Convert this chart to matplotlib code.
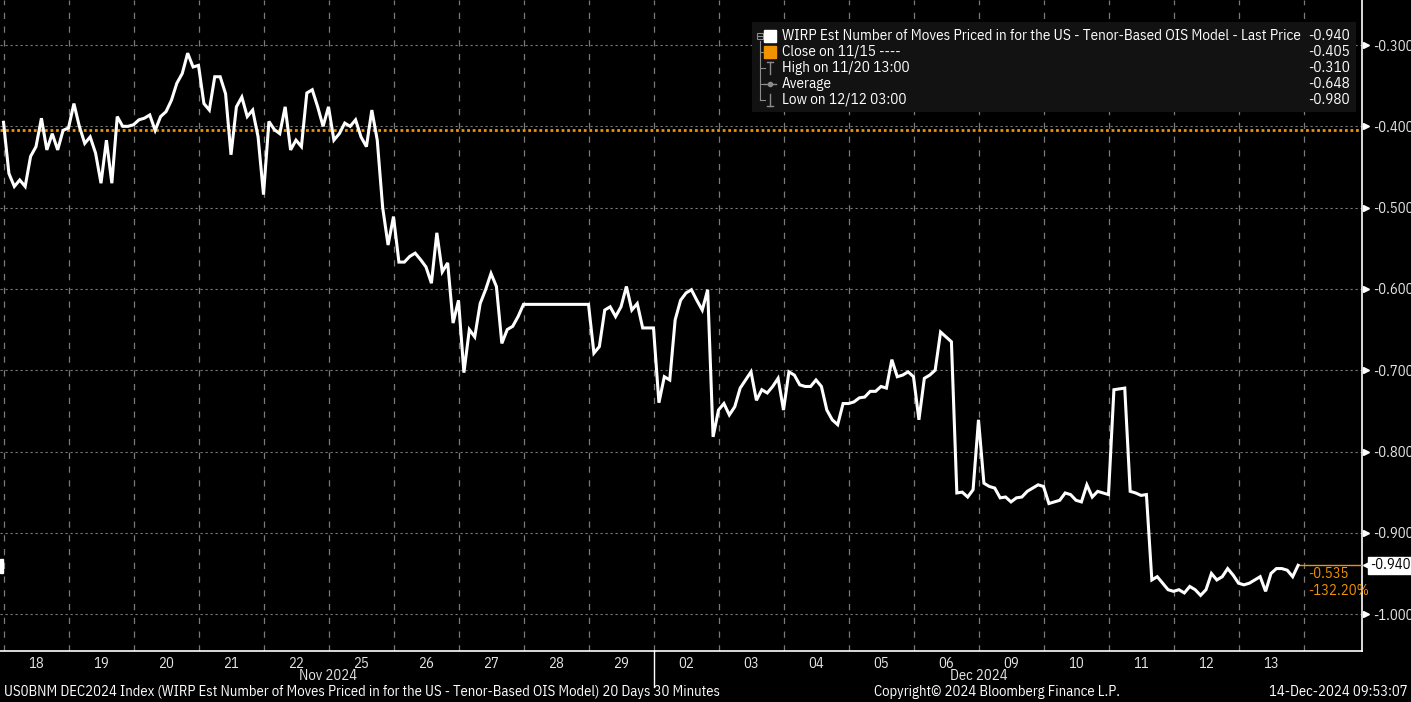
import numpy as np
import matplotlib
matplotlib.use("Agg")
import matplotlib.pyplot as plt

plt.rcParams['font.family'] = ['IBM Plex Sans Condensed', 'DejaVu Sans']

# trading days shown on the axis (weekends collapsed)
day_labels = ['18', '19', '20', '21', '22', '25', '26', '27', '28', '29',
              '02', '03', '04', '05', '06', '09', '10', '11', '12', '13']
month_labels = ['Nov 2024', 'Dec 2024']
month_start = [0, 10]
pts_per_day = 12  # one reading every 2 hours

# WIRP readings
nov18 = [-0.395, -0.458, -0.474, -0.466, -0.474, -0.437, -0.425, -0.390, -0.429, -0.409, -0.429, -0.405]
nov19 = [-0.402, -0.372, -0.400, -0.421, -0.413, -0.433, -0.470, -0.417, -0.470, -0.388, -0.400, -0.400]
nov20 = [-0.398, -0.392, -0.390, -0.386, -0.405, -0.388, -0.382, -0.368, -0.347, -0.335, -0.310, -0.327]
nov21 = [-0.325, -0.372, -0.380, -0.339, -0.339, -0.360, -0.435, -0.376, -0.364, -0.388, -0.380, -0.413]
nov22 = [-0.484, -0.394, -0.404, -0.409, -0.376, -0.429, -0.417, -0.425, -0.359, -0.355, -0.376, -0.400]
nov25 = [-0.376, -0.417, -0.409, -0.396, -0.400, -0.392, -0.413, -0.425, -0.380, -0.417, -0.500, -0.546]
nov26 = [-0.511, -0.567, -0.567, -0.560, -0.556, -0.564, -0.573, -0.593, -0.531, -0.579, -0.568, -0.642]
nov27 = [-0.614, -0.703, -0.650, -0.659, -0.618, -0.601, -0.581, -0.597, -0.667, -0.650, -0.646, -0.634]
nov28 = [-0.619, -0.619, -0.619, -0.619, -0.619, -0.619, -0.619, -0.619, -0.619, -0.619, -0.619, -0.619]
nov29 = [-0.619, -0.679, -0.671, -0.626, -0.622, -0.634, -0.622, -0.597, -0.626, -0.618, -0.648, -0.648]
dec02 = [-0.648, -0.740, -0.708, -0.712, -0.638, -0.614, -0.605, -0.601, -0.614, -0.626, -0.601, -0.782]
dec03 = [-0.749, -0.741, -0.755, -0.745, -0.722, -0.712, -0.702, -0.737, -0.724, -0.728, -0.720, -0.710]
dec04 = [-0.749, -0.702, -0.706, -0.718, -0.720, -0.720, -0.712, -0.720, -0.749, -0.761, -0.767, -0.741]
dec05 = [-0.741, -0.739, -0.734, -0.733, -0.726, -0.726, -0.720, -0.722, -0.687, -0.708, -0.706, -0.702]
dec06 = [-0.708, -0.761, -0.710, -0.706, -0.700, -0.653, -0.659, -0.665, -0.851, -0.850, -0.856, -0.847]
dec09 = [-0.761, -0.839, -0.843, -0.845, -0.857, -0.856, -0.862, -0.857, -0.856, -0.849, -0.845, -0.841]
dec10 = [-0.843, -0.864, -0.862, -0.860, -0.851, -0.853, -0.860, -0.862, -0.841, -0.856, -0.849, -0.851]
dec11 = [-0.853, -0.724, -0.723, -0.722, -0.849, -0.851, -0.854, -0.853, -0.958, -0.954, -0.962, -0.970]
dec12 = [-0.972, -0.970, -0.974, -0.966, -0.970, -0.977, -0.970, -0.950, -0.958, -0.954, -0.944, -0.952]
dec13 = [-0.962, -0.964, -0.962, -0.958, -0.954, -0.972, -0.950, -0.944, -0.944, -0.946, -0.954, -0.940]

close_px = -0.405
last_px = -0.940
net_chg = '-0.535'
pct_chg = '-132.20%'
legend_rows = [
    ('WIRP Est Number of Moves Priced in for the US - Tenor-Based OIS Model - Last Price', '-0.940'),
    ('Close on 11/15 ----', '-0.405'),
    ('High on 11/20 13:00', '-0.310'),
    ('Average', '-0.648'),
    ('Low on 12/12 03:00', '-0.980'),
]
y_ticks = [-0.3, -0.4, -0.5, -0.6, -0.7, -0.8, -0.9, -1.0]

vals = np.array(nov18 + nov19 + nov20 + nov21 + nov22 + nov25 + nov26 + nov27 + nov28 + nov29
                + dec02 + dec03 + dec04 + dec05 + dec06 + dec09 + dec10 + dec11 + dec12 + dec13)
t = np.arange(len(vals)) / pts_per_day

WHITE = '#ffffff'
GRID = '#7a7a7a'
ORANGE = '#f39200'
TXT = '#e6e6e6'
FS = 10.5
FS_LEG = 10.9

W, H = 1411, 702
fig = plt.figure(figsize=(W / 100, H / 100), dpi=100, facecolor='black')
ax_w, ax_h = 1362, 651
ax = fig.add_axes([0, (H - ax_h) / H, ax_w / W, ax_h / H], facecolor='black')

px_per_day = 65.0
x0 = 3.5 / px_per_day
ax.set_xlim(-x0, (ax_w - 3.5) / px_per_day)
ax.set_ylim(-1.0454, -0.2446)

# grid
ax.set_xticks(np.arange(len(day_labels) + 1))
ax.set_xticklabels([])
ax.set_xticks(np.arange(len(day_labels)) + 0.5, labels=day_labels, minor=True)
ax.tick_params(axis='x', which='both', length=0, colors=TXT, labelsize=FS, pad=4)
ax.grid(axis='x', which='major', color=GRID, linestyle=(0, (5, 6)), linewidth=0.9)
ax.set_yticks(y_ticks)
ax.set_yticklabels([f'{v:.3f}' for v in y_ticks])
ax.yaxis.tick_right()
ax.tick_params(axis='y', length=0, colors=TXT, labelsize=FS, pad=8)
ax.grid(axis='y', color=GRID, linestyle=(0, (2, 2.5)), linewidth=0.8)
ax.set_axisbelow(True)

for s in ['top', 'left']:
    ax.spines[s].set_visible(False)
for s in ['right', 'bottom']:
    ax.spines[s].set_color(WHITE)
    ax.spines[s].set_linewidth(1.2)

# tick arrows on the right axis
ytr = ax.get_yaxis_transform()
ax.plot([1.003] * len(y_ticks), y_ticks, linestyle='none', marker='>', ms=4,
        color=WHITE, transform=ytr, clip_on=False)

# month labels + separator
xtr = ax.get_xaxis_transform()
for lab, st in zip(month_labels, month_start):
    ax.text(st + 5, -0.039, lab, transform=xtr, ha='center', va='center', color=TXT, fontsize=FS)
ax.plot([month_start[1], month_start[1]], [0, -0.056], transform=xtr, color=WHITE,
        lw=1.0, clip_on=False)

# close line
ax.axhline(close_px, color=ORANGE, linestyle=(0, (1, 1)), linewidth=2.0)

# series
ax.plot(t, vals, color=WHITE, linewidth=2.2, solid_joinstyle='miter', zorder=5)

# last price guide and change labels
ax.plot([t[-1], ax.get_xlim()[1]], [last_px, last_px], color=ORANGE, lw=1.0, zorder=4)
ax.annotate(net_chg, xy=(t[-1], last_px), xytext=(10, -9), textcoords='offset pixels',
            color=ORANGE, fontsize=FS, ha='left', va='center')
ax.annotate(pct_chg, xy=(t[-1], last_px), xytext=(10, -26), textcoords='offset pixels',
            color=ORANGE, fontsize=FS, ha='left', va='center')
ax.annotate('-0.940', xy=(1, last_px), xycoords=ytr, xytext=(8, 0), textcoords='offset pixels',
            color='black', fontsize=FS, ha='left', va='center', annotation_clip=False,
            bbox=dict(boxstyle='square,pad=0.12', fc=WHITE, ec=WHITE))
ax.plot([1.0035], [last_px], marker='<', ms=6, color=WHITE, transform=ytr, clip_on=False)
# small price marker at the left edge
ax.add_patch(plt.Rectangle((0, -0.932), 0.0025, -0.018, transform=ytr,
                           color=WHITE, clip_on=False, zorder=6))


# legend panel drawn by hand (pixel positions -> axes fraction)
def axx(px):
    return px / ax_w


def axy(py):
    return 1 - py / ax_h


ax.add_patch(plt.Rectangle((axx(752), axy(112)), axx(1356) - axx(752), axy(22) - axy(112),
                           transform=ax.transAxes, fc='#121212', ec='none', zorder=7))
row_y = [36, 52, 68, 84, 100]
for (lab, val), ry in zip(legend_rows, row_y):
    ax.text(axx(782), axy(ry), lab, transform=ax.transAxes, color=WHITE, fontsize=FS_LEG,
            ha='left', va='center', zorder=9)
    ax.text(axx(1350), axy(ry), val, transform=ax.transAxes, color=WHITE, fontsize=FS_LEG,
            ha='right', va='center', zorder=9)

tree = '#8c8c8c'
T = ax.transAxes
ax.plot([axx(760), axx(760)], [axy(41), axy(100)], color=tree, lw=0.8, transform=T, zorder=8)
for ry in row_y[1:]:
    ax.plot([axx(760), axx(765)], [axy(ry), axy(ry)], color=tree, lw=0.8, transform=T, zorder=8)
ax.plot([axx(760)], [axy(36)], marker='s', ms=5, mfc='#121212', mec=tree, mew=0.8,
        transform=T, zorder=8)
ax.plot([axx(758), axx(762)], [axy(36), axy(36)], color=tree, lw=0.8, transform=T, zorder=9)
ax.plot([axx(770)], [axy(36)], marker='s', ms=8, color=WHITE, transform=T, zorder=8)
ax.plot([axx(770)], [axy(52)], marker='s', ms=8, color=ORANGE, transform=T, zorder=8)
# high icon
ax.plot([axx(770), axx(770)], [axy(62), axy(74)], color=tree, lw=1, transform=T, zorder=8)
ax.plot([axx(767), axx(773)], [axy(62), axy(62)], color=tree, lw=1, transform=T, zorder=8)
# average icon
ax.plot([axx(764), axx(776)], [axy(84), axy(84)], color=tree, lw=1, transform=T, zorder=8)
ax.plot([axx(770)], [axy(84)], marker='o', ms=3, color=tree, transform=T, zorder=8)
# low icon
ax.plot([axx(770), axx(770)], [axy(94), axy(106)], color=tree, lw=1, transform=T, zorder=8)
ax.plot([axx(767), axx(773)], [axy(106), axy(106)], color=tree, lw=1, transform=T, zorder=8)

# footer
fy = (H - 692) / H
fig.text(4 / W, fy, 'US0BNM DEC2024 Index (WIRP Est Number of Moves Priced in for the US - '
         'Tenor-Based OIS Model) 20 Days 30 Minutes', color=WHITE, fontsize=FS,
         ha='left', va='center')
fig.text(997 / W, fy, 'Copyright\u00a9 2024 Bloomberg Finance L.P.', color=WHITE, fontsize=FS,
         ha='center', va='center')
fig.text(1408 / W, fy, '14-Dec-2024 09:53:07', color=WHITE, fontsize=FS, ha='right', va='center')

fig.savefig('out.png', dpi=100, facecolor='black')
